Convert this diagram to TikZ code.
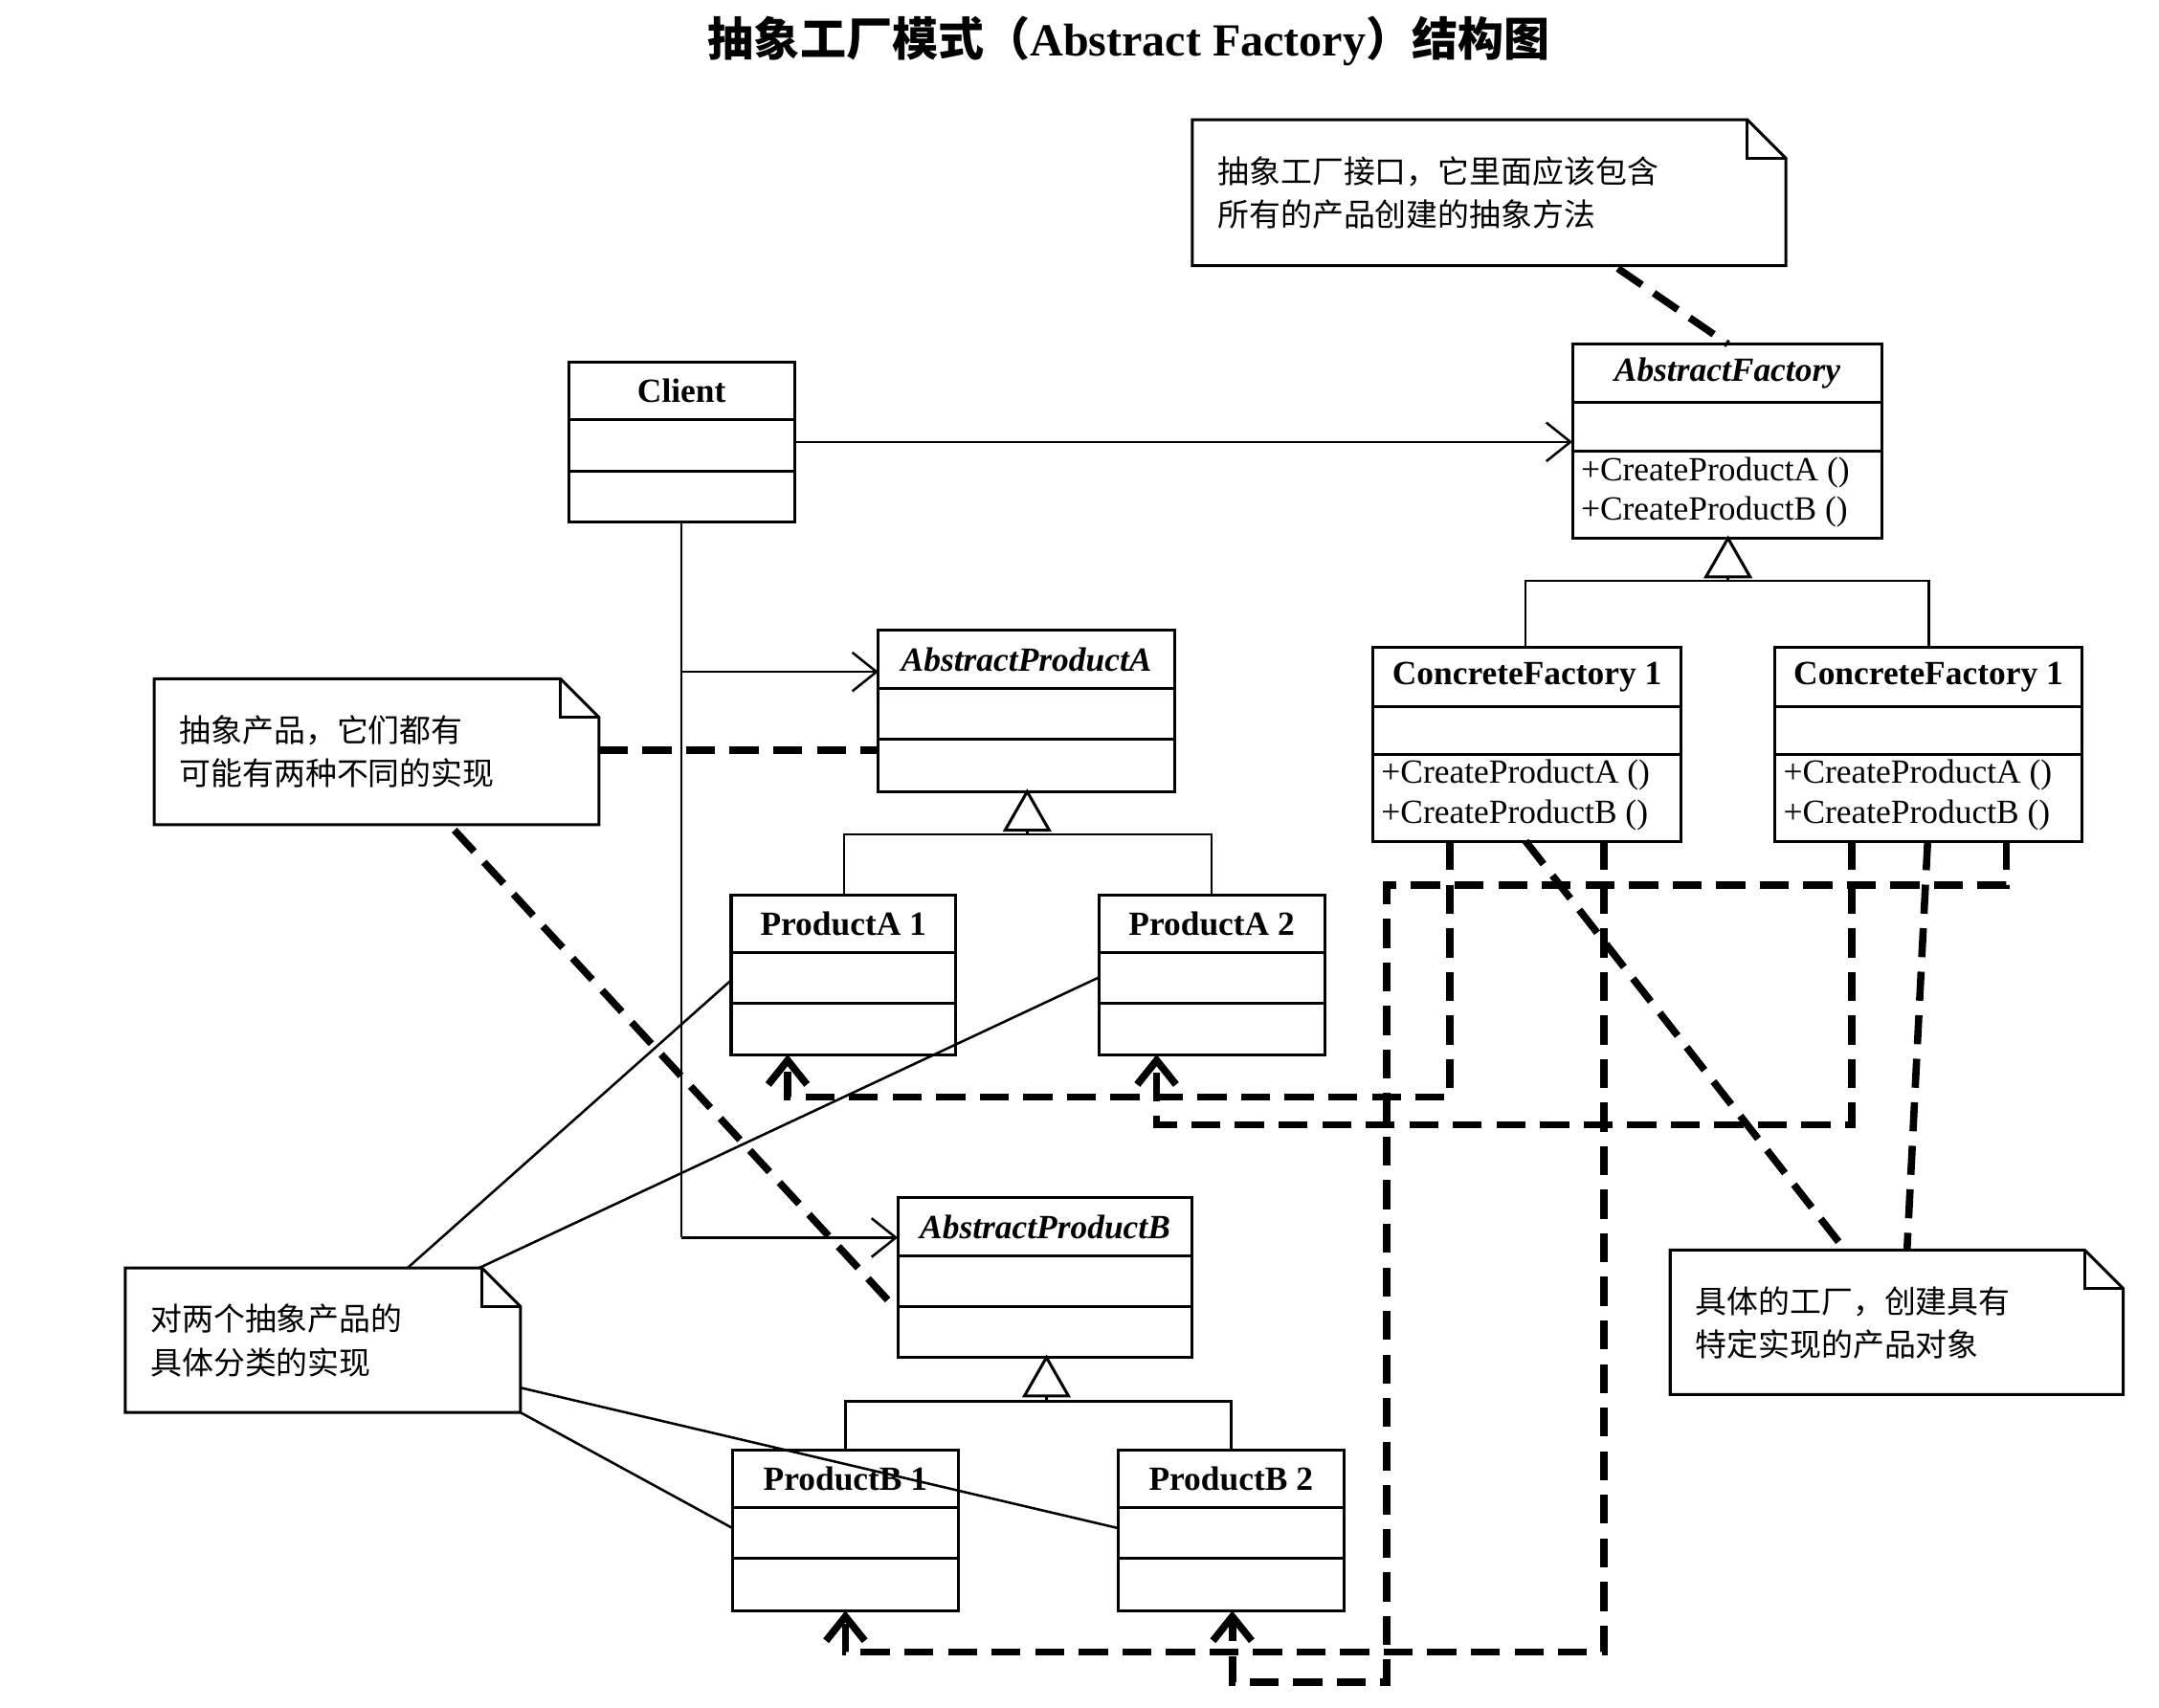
\documentclass[tikz,border=0pt]{standalone}
\usepackage{fontspec}
\setmainfont{Liberation Serif}
\newfontfamily\cjk{Noto Sans CJK SC}
\usetikzlibrary{arrows.meta}
\begin{document}
\begin{tikzpicture}[x=0.01cm,y=-0.01cm,
  box/.style={draw,line width=0.6pt},
  cname/.style={font=\rmfamily\bfseries\fontsize{7}{8}\selectfont},
  meth/.style={font=\rmfamily\fontsize{7}{8}\selectfont,anchor=west,inner sep=1pt},
  notetxt/.style={font=\cjk\fontsize{6.5}{9}\selectfont,align=left,anchor=north west},
  thin/.style={line width=0.5pt},
  dep/.style={line width=1.5pt,dash pattern=on 6pt off 3pt},
  opena/.style={-{Straight Barb[length=5pt,width=8pt]}},
  tri/.style={draw,fill=white,line width=0.6pt}]
\useasboundingbox (0,0) rectangle (1568,1240);
\node[font=\cjk\bfseries\fontsize{9.5}{11}\selectfont] (title) at (820,30) {抽象工厂模式（{\rmfamily\bfseries Abstract Factory}）结构图};
\newcommand\umlclass[8]{%
  \draw[box] (#2,#3) rectangle (#4,#5);
  \draw[box] (#2,#6) -- (#4,#6);
  \draw[box] (#2,#7) -- (#4,#7);
  \node[cname] (#1) at ({(#2+#4)/2},{(#3+#6)/2}) {#8};
}
\umlclass{client}{413}{263}{577}{379}{305}{342}{Client}
\umlclass{af}{1142}{250}{1367}{391}{292}{328}{\itshape AbstractFactory}
\umlclass{cf1}{997}{470}{1221}{611}{513}{548}{ConcreteFactory 1}
\umlclass{cf2}{1289}{470}{1512}{611}{513}{548}{ConcreteFactory 1}
\umlclass{apa}{638}{458}{853}{575}{500}{537}{\itshape AbstractProductA}
\umlclass{pa1}{531}{650}{694}{766}{692}{729}{ProductA 1}
\umlclass{pa2}{798}{650}{962}{766}{692}{729}{ProductA 2}
\umlclass{apb}{652}{870}{866}{986}{912}{949}{\itshape AbstractProductB}
\umlclass{pb1}{532}{1053}{696}{1170}{1095}{1132}{ProductB 1}
\umlclass{pb2}{812}{1053}{976}{1170}{1095}{1132}{ProductB 2}
\node[meth] (afm1) at (1144,343) {+CreateProductA ()};
\node[meth] (afm2) at (1144,372) {+CreateProductB ()};
\node[meth] (c1m1) at (999,563) {+CreateProductA ()};
\node[meth] (c1m2) at (999,592) {+CreateProductB ()};
\node[meth] (c2m1) at (1291,563) {+CreateProductA ()};
\node[meth] (c2m2) at (1291,592) {+CreateProductB ()};
\newcommand\umlnote[6]{%
  \draw[box] (#2,#3) -- ({#4-28},#3) -- (#4,{#3+28}) -- (#4,#5) -- (#2,#5) -- cycle;
  \draw[box] ({#4-28},#3) -- ({#4-28},{#3+28}) -- (#4,{#3+28});
  \node[notetxt] (#1) at ({#2+6},{#3+14}) {#6};
}
\umlnote{n1}{866}{87}{1297}{193}{抽象工厂接口，它里面应该包含\\所有的产品创建的抽象方法}
\umlnote{n2}{112}{493}{435}{599}{抽象产品，它们都有\\可能有两种不同的实现}
\umlnote{n3}{91}{921}{378}{1026}{对两个抽象产品的\\具体分类的实现}
\umlnote{n4}{1213}{908}{1542}{1013}{具体的工厂，创建具有\\特定实现的产品对象}
\draw[thin,opena] (577,321) -- (1142,321);
\draw[thin] (495,379) -- (495,899);
\draw[thin,opena] (495,488) -- (638,488);
\draw[thin,opena] (495,899) -- (652,899);
\draw[thin] (1108,470) -- (1108,422) -- (1401,422) -- (1401,470);
\draw[tri] (1255,391) -- (1239,419) -- (1271,419) -- cycle;
\draw[thin] (1255,419) -- (1255,422);
\draw[thin] (613,650) -- (613,606) -- (880,606) -- (880,650);
\draw[tri] (746,575) -- (730,603) -- (762,603) -- cycle;
\draw[thin] (746,603) -- (746,606);
\draw[thin] (614,1053) -- (614,1018) -- (894,1018) -- (894,1053);
\draw[tri] (760,986) -- (744,1014) -- (776,1014) -- cycle;
\draw[thin] (760,1014) -- (760,1018);
\draw[dep] (1175,195) -- (1255,250);
\draw[dep] (435,545) -- (638,545);
\draw[dep] (330,603) -- (650,950);
\draw[dep] (1108,611) -- (1340,908);
\draw[dep] (1400,611) -- (1385,908);
\draw[thin] (296,921) -- (531,712);
\draw[thin] (348,921) -- (798,710);
\draw[thin] (378,1026) -- (532,1110);
\draw[thin] (378,1008) -- (812,1110);
\draw[dep,opena] (1053,611) -- (1053,797) -- (572,797) -- (572,766);
\draw[dep,opena] (1165,611) -- (1165,1200) -- (614,1200) -- (614,1170);
\draw[dep,opena] (1345,611) -- (1345,817) -- (840,817) -- (840,766);
\draw[dep,opena] (1457,611) -- (1457,643) -- (1007,643) -- (1007,1222) -- (895,1222) -- (895,1170);
\end{tikzpicture}
\end{document}
